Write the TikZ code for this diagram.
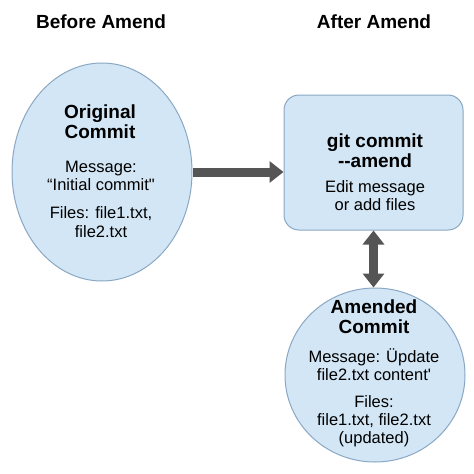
\documentclass[tikz,border=0pt]{standalone}
\usepackage{fontspec}
\setmainfont{Liberation Sans}
\usetikzlibrary{shapes.geometric,arrows.meta}
\definecolor{shapefill}{HTML}{D3E6F5}
\definecolor{shapeedge}{HTML}{8AA8C4}
\definecolor{arrowgray}{HTML}{555555}
\tikzset{
  blob/.style={draw=shapeedge,fill=shapefill,line width=1pt,inner sep=0pt},
  ttl/.style={anchor=base,inner sep=0pt,font=\fontsize{19}{20}\selectfont\bfseries},
  hd/.style={anchor=base,inner sep=0pt,font=\fontsize{19}{20}\selectfont\bfseries},
  bd/.style={anchor=base,inner sep=0pt,font=\fontsize{16.5}{18}\selectfont},
  fat/.style={draw=arrowgray,line width=9pt},
}
\begin{document}
\begin{tikzpicture}[x=1pt,y=-1pt]
\useasboundingbox[fill=white] (0,0) rectangle (474,474);
% titles
\node[ttl] (tA) at (101,28) {Before Amend};
\node[ttl] (tB) at (374,28) {After Amend};
% shapes
\node[blob,ellipse,minimum width=180pt,minimum height=218pt] (orig) at (102,172) {};
\node[blob,rectangle,rounded corners=15pt,minimum width=179pt,minimum height=135pt] (amend) at (373.5,162.5) {};
\node[blob,ellipse,minimum width=180pt,minimum height=174pt] (new) at (375,375) {};
% texts original
\node[hd] (o1) at (100,118) {Original};
\node[hd] (o2) at (100,138) {Commit};
\node[bd] (o3) at (101,172) {Message:};
\node[bd] (o4) at (101,190) {“Initial commit\textquotedbl};
\node[bd] (o5) at (101,218) {Files: file1.txt,};
\node[bd] (o6) at (101,237) {file2.txt};
% texts amend
\node[hd] (a1) at (375,147) {git commit};
\node[hd] (a2) at (375,167) {-{}-amend};
\node[bd] (a3) at (375,192) {Edit message};
\node[bd] (a4) at (375,210) {or add files};
% texts new
\node[hd] (n1) at (374,313) {Amended};
\node[hd] (n2) at (374,333) {Commit};
\node[bd] (n3) at (374,362) {Message: Üpdate};
\node[bd] (n4) at (374,380) {file2.txt content\textquotesingle};
\node[bd] (n5) at (374,407) {Files:};
\node[bd] (n6) at (374,425) {file1.txt, file2.txt};
\node[bd] (n7) at (374,443) {(updated)};
% connectors
\draw[fat,-{Triangle[width=21pt,length=14pt]}] (orig.east) -- (orig.east -| amend.west);
\draw[fat,{Triangle[width=21pt,length=14pt]}-{Triangle[width=21pt,length=14pt]}] (amend.south) -- (amend.south |- new.north);
\end{tikzpicture}
\end{document}
